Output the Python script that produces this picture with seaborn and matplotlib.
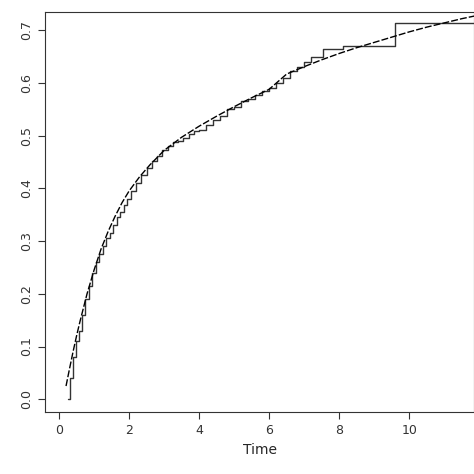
import matplotlib
matplotlib.use("Agg")
import matplotlib.pyplot as plt
import seaborn as sns

# smooth fitted curve
curve_t = [0.2, 0.3, 0.4, 0.5, 0.6, 0.8, 1.0, 1.2, 1.4, 1.6, 1.8, 2.0, 2.3, 2.6, 3.0, 3.5, 4.0, 4.5, 5.0, 5.5, 6.0, 6.5, 7.0, 7.5, 8.0, 8.5, 9.0, 9.5, 10.0, 10.5, 11.0, 11.5, 12.0]
curve_y = [0.025, 0.058, 0.09, 0.12, 0.148, 0.20, 0.245, 0.285, 0.318, 0.347, 0.373, 0.395, 0.422, 0.445, 0.472, 0.497, 0.518, 0.537, 0.555, 0.572, 0.602, 0.617, 0.631, 0.644, 0.656, 0.667, 0.677, 0.687, 0.697, 0.706, 0.714, 0.722, 0.729]
curve_y = [v if t < 5.8 else v for t, v in zip(curve_t, curve_y)]
curve_y[20] = 0.588

step_t = [0.25, 0.32, 0.4, 0.48, 0.56, 0.65, 0.75, 0.85, 0.95, 1.05, 1.15, 1.25, 1.35, 1.45, 1.55, 1.65, 1.75, 1.85, 1.95, 2.05, 2.2, 2.35, 2.5, 2.65, 2.8, 2.95, 3.1, 3.25, 3.4, 3.55, 3.7, 3.85, 4.0, 4.2, 4.4, 4.6, 4.8, 5.0, 5.2, 5.4, 5.6, 5.8, 6.0, 6.2, 6.4, 6.6, 6.8, 7.0, 7.2, 7.55, 8.1, 9.6, 12.0]
step_y = [0.0, 0.04, 0.08, 0.11, 0.13, 0.16, 0.19, 0.215, 0.24, 0.26, 0.275, 0.29, 0.305, 0.315, 0.33, 0.345, 0.355, 0.368, 0.38, 0.395, 0.41, 0.425, 0.438, 0.452, 0.462, 0.472, 0.48, 0.488, 0.49, 0.495, 0.503, 0.508, 0.51, 0.52, 0.53, 0.538, 0.55, 0.555, 0.565, 0.57, 0.578, 0.585, 0.59, 0.6, 0.61, 0.622, 0.63, 0.64, 0.65, 0.665, 0.671, 0.713, 0.713]

sns.set_style("white")
fig, ax = plt.subplots(figsize=(4.74, 4.74), dpi=100)
fig.subplots_adjust(left=0.095, right=1.0, bottom=0.13, top=0.975)

ax.step(step_t, step_y, where="post", color="#333333", lw=1.0)
sns.lineplot(x=curve_t, y=curve_y, ax=ax, color="black", lw=1.0, linestyle=(0, (5, 1.5)))

ax.set_xlim(-0.4, 11.85)
ax.set_ylim(-0.025, 0.735)
ax.set_xticks([0, 2, 4, 6, 8, 10])
ax.set_yticks([0.0, 0.1, 0.2, 0.3, 0.4, 0.5, 0.6, 0.7])
ax.set_yticklabels(["0.0", "0.1", "0.2", "0.3", "0.4", "0.5", "0.6", "0.7"], rotation=90, va="center")
ax.tick_params(axis="both", direction="out", length=5, width=0.8, colors="#333333", labelsize=9, left=True, bottom=True)
ax.set_xlabel("Time", fontsize=10)
for s in ax.spines.values():
    s.set_color("#333333")
    s.set_linewidth(0.8)
fig.savefig("out.png", dpi=100)
